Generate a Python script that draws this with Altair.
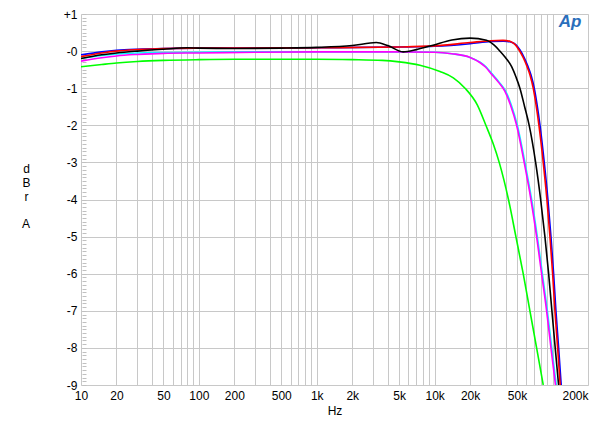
import altair as alt
import pandas as pd

# ---- data ----
red_f = [10, 15, 20, 30, 50, 100, 1000, 5000, 10000, 20000, 30000, 38000, 44000, 48000, 52000, 56500, 60300, 64500, 68600, 72500, 76700, 83400, 89600, 95100, 100200, 104800, 110500, 116200]
red_db = [-0.15, -0.05, 0.0, 0.04, 0.07, 0.08, 0.09, 0.11, 0.14, 0.23, 0.28, 0.29, 0.26, 0.18, 0.03, -0.18, -0.39, -0.65, -1.0, -1.45, -2.0, -3.0, -4.0, -5.0, -6.0, -7.0, -8.0, -9.0]

blue_f = [10, 15, 20, 30, 50, 100, 1000, 5000, 10000, 20000, 30000, 38500, 44800, 49000, 53000, 57600, 61500, 65800, 70000, 74000, 78300, 85100, 91400, 97000, 102200, 106900, 112700, 118500]
blue_db = [-0.1, -0.02, 0.02, 0.05, 0.07, 0.08, 0.09, 0.11, 0.13, 0.2, 0.26, 0.27, 0.24, 0.17, 0.03, -0.18, -0.39, -0.65, -1.0, -1.45, -2.0, -3.0, -4.0, -5.0, -6.0, -7.0, -8.0, -9.0]

cyan_f = [10, 15, 20, 30, 50, 100, 300, 1000, 5000, 10000, 14000, 20000, 24300, 27400, 30400, 35500, 40000, 44700, 50300, 58300, 66500, 74300, 82000, 90400, 98500, 107600]
cyan_db = [-0.2, -0.12, -0.08, -0.05, -0.04, -0.03, -0.02, -0.02, -0.02, -0.03, -0.07, -0.17, -0.3, -0.43, -0.6, -0.85, -1.08, -1.45, -2.0, -3.0, -4.0, -5.0, -6.0, -7.0, -8.0, -9.0]

magenta_f = [10, 15, 20, 30, 50, 100, 300, 1000, 5000, 10000, 14000, 20000, 24000, 27000, 30000, 35000, 39400, 44000, 49600, 57500, 65600, 73300, 80800, 89100, 97000, 106000]
magenta_db = [-0.27, -0.18, -0.13, -0.09, -0.06, -0.05, -0.03, -0.02, -0.02, -0.03, -0.07, -0.17, -0.3, -0.43, -0.6, -0.85, -1.08, -1.45, -2.0, -3.0, -4.0, -5.0, -6.0, -7.0, -8.0, -9.0]

black_f = [10, 15, 20, 30, 50, 80, 100, 200, 500, 1000, 2000, 3200, 4000, 5400, 7000, 9700, 14000, 20000, 27500, 32000, 35800, 40000, 45000, 49000, 52900, 58000, 63400, 71900, 79300, 86200, 92700, 98800, 105400, 112600]
black_db = [-0.2, -0.1, -0.05, 0.0, 0.05, 0.09, 0.08, 0.07, 0.08, 0.1, 0.15, 0.23, 0.15, -0.02, 0.04, 0.16, 0.3, 0.35, 0.29, 0.16, 0.0, -0.18, -0.42, -0.7, -1.0, -1.5, -2.0, -3.0, -4.0, -5.0, -6.0, -7.0, -8.0, -9.0]

green_f = [10, 15, 20, 30, 50, 100, 200, 500, 1000, 2000, 3600, 5000, 7500, 11100, 14400, 18100, 23000, 27200, 31400, 35300, 42300, 48900, 56400, 64300, 73300, 83400]
green_db = [-0.42, -0.36, -0.32, -0.28, -0.25, -0.23, -0.22, -0.22, -0.22, -0.23, -0.25, -0.29, -0.38, -0.55, -0.72, -1.0, -1.45, -2.0, -2.5, -3.0, -4.0, -5.0, -6.0, -7.0, -8.0, -9.0]

# draw order (bottom to top) and colours
series = [
    ("cyan", cyan_f, cyan_db, "#00ffff"),
    ("blue", blue_f, blue_db, "#0000ff"),
    ("magenta", magenta_f, magenta_db, "#ff00ff"),
    ("green", green_f, green_db, "#00ff00"),
    ("red", red_f, red_db, "#ff0000"),
    ("black", black_f, black_db, "#000000"),
]

x_grid = [d * 10 ** e for e in range(1, 6) for d in range(1, 10) if d * 10 ** e <= 200000]
x_labels = [10, 20, 50, 100, 200, 500, 1000, 2000, 5000, 10000, 20000, 50000, 200000]
y_major = list(range(-9, 2))
y_minor = [round(-9 + i * 0.1, 1) for i in range(0, 101)]

FONT = "Liberation Sans"
W, H = 507, 371

label_list = ",".join(str(v) for v in x_labels)
x_label_expr = (
    f"indexof([{label_list}], datum.value) >= 0 ? "
    "(datum.value >= 1000 ? (datum.value / 1000) + 'k' : '' + datum.value) : ''"
)
y_label_expr = "datum.value > 0 ? '+' + datum.value : (datum.value == 0 ? '-0' : '' + datum.value)"

x_scale = alt.Scale(type="log", domain=[10, 200000], nice=False)
y_scale = alt.Scale(domain=[-9, 1], nice=False)

x_axis = alt.Axis(
    values=x_grid, labelExpr=x_label_expr, title="Hz", grid=True, gridColor="#c8c8c8",
    gridWidth=1, ticks=False, domain=False, labelFlush=False, labelOverlap=False,
    labelBound=False, labelFont=FONT, labelFontSize=12, labelColor="#000000",
    labelAlign={"expr": "datum.value >= 200000 ? 'right' : 'center'"},
    labelPadding=5, titleFont=FONT, titleFontSize=12, titleFontWeight="normal",
    titleColor="#000000", titlePadding=4,
)
y_axis = alt.Axis(
    values=y_major, labelExpr=y_label_expr, title=["d", "B", "r"],
    grid=True, gridColor="#c8c8c8", gridWidth=1, ticks=False, domain=False,
    labelFont=FONT, labelFontSize=12, labelColor="#000000", labelPadding=4,
    labelFlush=False, labelOverlap=False, labelBound=False,
    titleFont=FONT, titleFontSize=12, titleFontWeight="normal", titleColor="#000000",
    titleAngle=0, titleAlign="center", titleBaseline="middle", titleX=-55, titleY=H / 2 - 31,
    titleLineHeight=13.75, orient="left",
)
y_minor_axis = alt.Axis(
    values=y_minor, labels=False, title=None, grid=False, domain=False, ticks=True,
    tickSize=4, tickColor="#c0c0c0", tickWidth=1, offset=-5, orient="left",
)

layers = []
for i, (name, fs, dbs, col) in enumerate(series):
    df = pd.DataFrame({"f": fs, "db": dbs})
    layer = alt.Chart(df).mark_line(
        color=col, strokeWidth=1.6, interpolate="monotone", clip=True
    ).encode(
        x=alt.X("f:Q", scale=x_scale, axis=x_axis),
        y=alt.Y("db:Q", scale=y_scale, axis=y_axis if i == 0 else None),
    )
    layers.append(layer)

minor_df = pd.DataFrame({"f": [10], "db": [-9]})
minor_layer = alt.Chart(minor_df).mark_point(opacity=0).encode(
    x=alt.X("f:Q", scale=x_scale, axis=x_axis),
    y=alt.Y("db:Q", scale=y_scale, axis=y_minor_axis),
)

# last letter of the stacked "dBrA" axis title (after a blank line)
title_a = alt.Chart(pd.DataFrame({"t": ["A"]})).mark_text(
    font=FONT, fontSize=12, color="#000000", align="center", baseline="middle",
).encode(x=alt.value(-55), y=alt.value(H / 2 - 31 + 4 * 13.75), text="t:N")

logo = alt.Chart(pd.DataFrame({"t": ["Ap"]})).mark_text(
    font=FONT, fontSize=17, fontStyle="italic", fontWeight="bold", color="#2a6ebb",
    align="center", baseline="middle",
).encode(x=alt.value(W - 18), y=alt.value(8), text="t:N")

chart = alt.layer(minor_layer, *layers, title_a, logo).resolve_axis(y="independent").properties(
    width=W, height=H,
    autosize=alt.AutoSizeParams(type="none"),
    padding={"left": 73, "top": 6, "right": 4, "bottom": 31},
).configure_view(stroke="#a0a0a0", strokeWidth=1).configure(background="#ffffff")

chart.save("out.html", embed_options={"renderer": "svg", "actions": False})
